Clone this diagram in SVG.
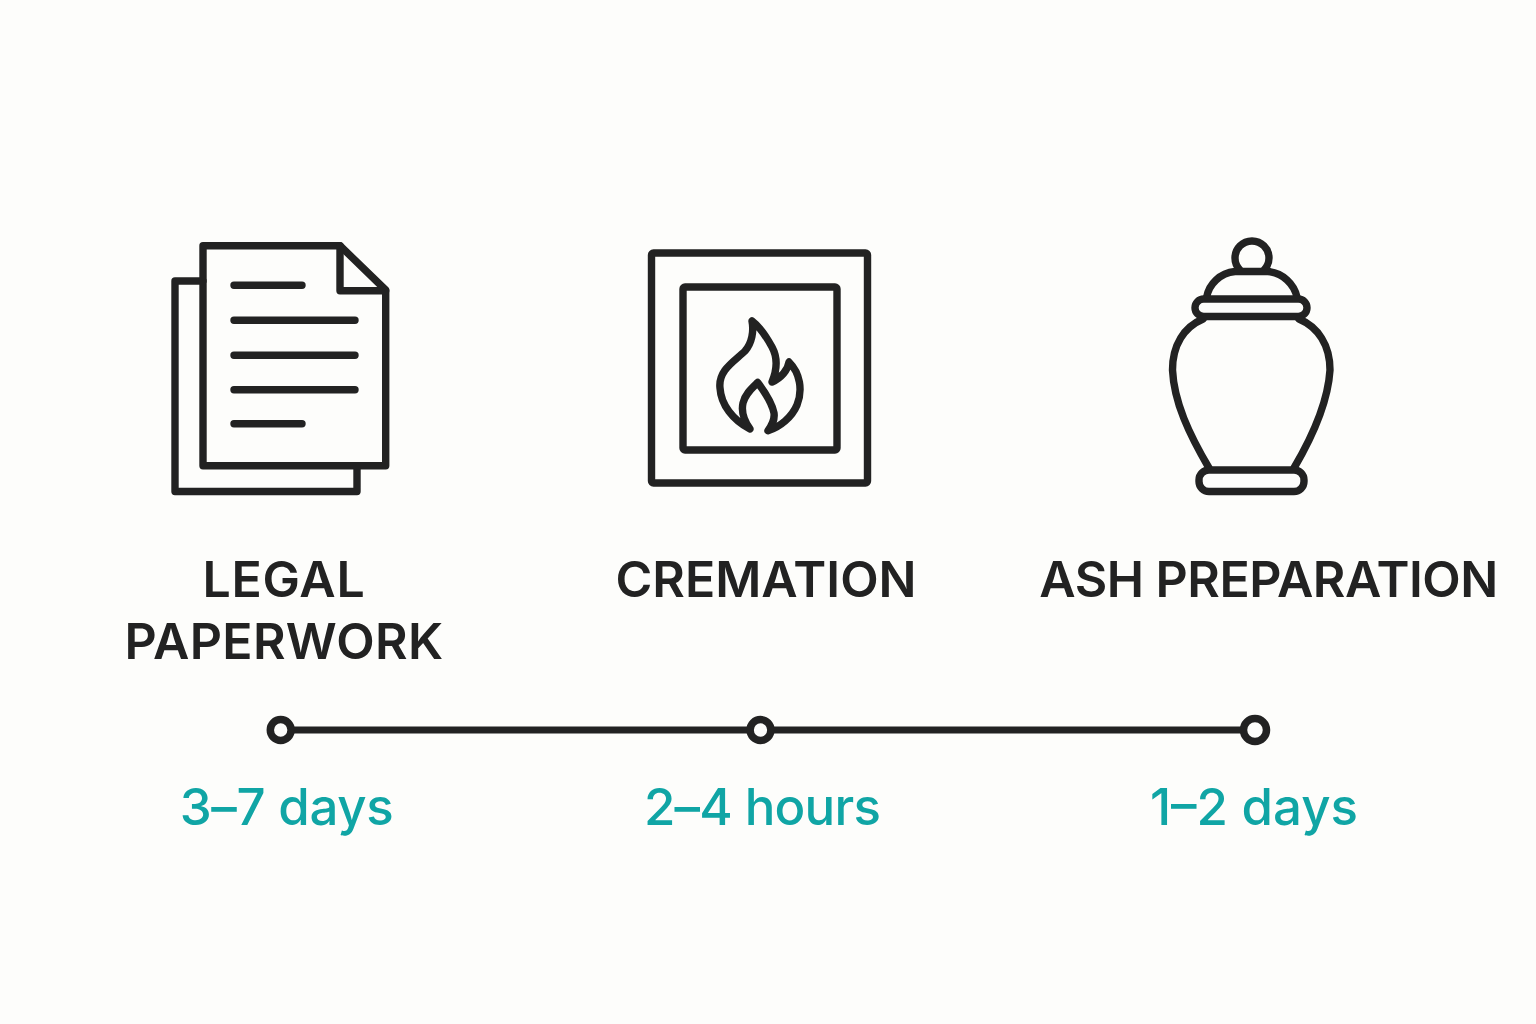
<svg xmlns="http://www.w3.org/2000/svg" width="1536" height="1024" viewBox="0 0 1536 1024">
<style>
.ic{fill:none;stroke:#222;stroke-width:7.400;stroke-linejoin:round;stroke-linecap:round}
.lb{font-family:Inter,"Liberation Sans",sans-serif;font-size:50px;font-weight:600;fill:#222;text-anchor:middle}
.tm{font-family:Inter,"Liberation Sans",sans-serif;font-size:51px;font-weight:500;fill:#10a5a5;text-anchor:middle}
.dot{fill:#fdfdfb;stroke:#222;stroke-width:7.500}
</style>
<rect width="1536" height="1024" fill="#fdfdfb"/>
<g id="node-legal">
<path class="ic" d="M203 281H175V491.500H357V466"/>
<path class="ic" d="M203 245.700H340L385.700 290V465.700H203Z"/>
<path class="ic" d="M340 245.700V290.700H385.700"/>
<path class="ic" d="M234 285.300H302M234 320.300H355M234 355.300H355M234 389.700H355M234 423.700H302"/>
<text class="lb" x="284" y="597" letter-spacing="0.800">LEGAL</text>
<text class="lb" x="284" y="659" letter-spacing="0.300">PAPERWORK</text>
</g>
<g id="node-cremation">
<rect class="ic" x="651.500" y="253" width="216" height="230" rx="2"/>
<rect class="ic" x="683" y="287" width="154" height="163" rx="2"/>
<path class="ic" d="M752 321C754 331 752 343 745 351C735 361 718 370 720 388C721 405 733 420 750 429C745 422 741 412 743 403C745 394 752 388 757.700 382.500C764 391 772 403 774 413C775 420 772 425 768 430.700C780 427 792 417 797 405C803 390 800 373 789 362C788 370 781 378 772 382C777 370 778 358 772 347C766 336 760 327 752 321Z"/>
<text class="lb" x="766" y="597">CREMATION</text>
</g>
<g id="node-ash">
<path class="ic" d="M1240 270A17 17 0 1 1 1264 270"/>
<path class="ic" d="M1206.700 297C1209 284 1220 273 1235 271.500H1268C1283 273 1294 284 1297 297"/>
<rect class="ic" x="1195" y="299" width="112" height="17.500" rx="8.700"/>
<path class="ic" d="M1203 319C1184 327 1172.500 345 1172.500 370C1174 402 1189 434 1209 468"/>
<path class="ic" d="M1299 319C1318 327 1330 345 1330 370C1328 402 1314 434 1294 468"/>
<rect class="ic" x="1199" y="470" width="105" height="21.500" rx="10"/>
<text class="lb" x="1268.500" y="597" letter-spacing="-0.500">ASH PREPARATION</text>
</g>
<g id="connectors">
<line x1="292" y1="730" x2="1243" y2="730" stroke="#222" stroke-width="7"/>
<circle class="dot" cx="280.700" cy="730" r="10.400"/>
<circle class="dot" cx="760.500" cy="730" r="10.400"/>
<circle class="dot" cx="1255" cy="730" r="11.500"/>
</g>
<text class="tm" x="286.500" y="825" letter-spacing="-0.400">3–7 days</text>
<text class="tm" x="762" y="825" letter-spacing="-0.800">2–4 hours</text>
<text class="tm" x="1254" y="825">1–2 days</text>
</svg>
